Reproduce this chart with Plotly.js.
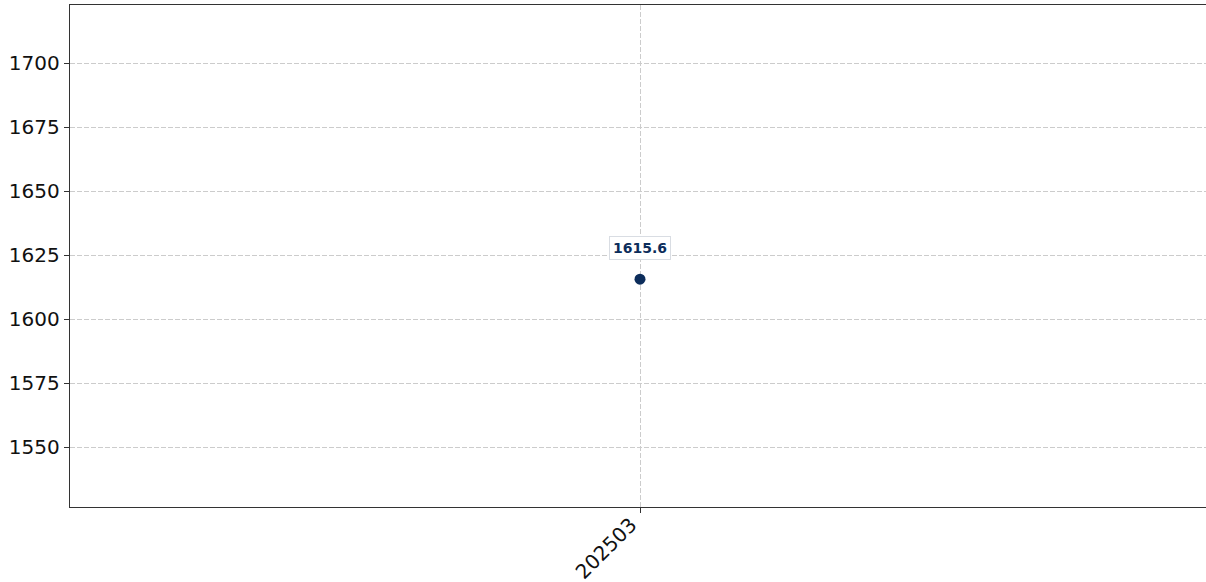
<!DOCTYPE html>
<html>
<head>
<meta charset="utf-8">
<script src="https://cdn.plot.ly/plotly-3.0.1.min.js"></script>
<style>
html,body{margin:0;padding:0;overflow:hidden;background:#fff;}
#chart{width:1212px;height:582px;}
</style>
</head>
<body>
<div id="chart"></div>
<script>
const periods = ['202503'];
const values = [1615.6];
const yTicks = [1550, 1575, 1600, 1625, 1650, 1675, 1700];

const navy = '#0c2d5b';

const trace = {
  x: periods,
  y: values,
  type: 'scatter',
  mode: 'markers',
  marker: {color: navy, size: 11},
  hoverinfo: 'x+y'
};

const annotations = periods.map((p, i) => ({
  x: i, y: values[i], xref: 'x', yref: 'y',
  text: '<b>' + values[i].toFixed(1) + '</b>',
  showarrow: false,
  yshift: 31,
  font: {family: 'DejaVu Sans', size: 14, color: navy},
  bgcolor: '#ffffff',
  bordercolor: '#d9dde3',
  borderwidth: 1,
  borderpad: 3
}));

const layout = {
  width: 1212, height: 582,
  margin: {l: 70, r: 2, t: 5, b: 75},
  paper_bgcolor: '#fff', plot_bgcolor: '#fff',
  font: {family: 'DejaVu Sans', size: 20, color: '#111'},
  showlegend: false,
  xaxis: {
    type: 'category',
    range: [-0.5, 0.5],
    tickangle: -45,
    ticklabelstandoff: -8,
    ticklabelshift: -9,
    ticks: 'outside', ticklen: 5, tickcolor: '#333', tickwidth: 1,
    showline: true, linecolor: '#333', linewidth: 1.3, mirror: true,
    showgrid: true, gridcolor: '#cccccc', griddash: '5px,2px', gridwidth: 1,
    zeroline: false,
    tickfont: {family: 'DejaVu Sans', size: 20, color: '#111'}
  },
  yaxis: {
    range: [1526.6, 1722.7],
    tickvals: yTicks,
    ticks: 'outside', ticklen: 5, tickcolor: '#333', tickwidth: 1,
    showline: true, linecolor: '#333', linewidth: 1.3, mirror: false,
    showgrid: true, gridcolor: '#cccccc', griddash: '5px,2px', gridwidth: 1,
    zeroline: false,
    tickfont: {family: 'DejaVu Sans', size: 20, color: '#111'}
  },
  annotations: annotations
};

Plotly.newPlot('chart', [trace], layout, {displayModeBar: false, staticPlot: true});
</script>
</body>
</html>
